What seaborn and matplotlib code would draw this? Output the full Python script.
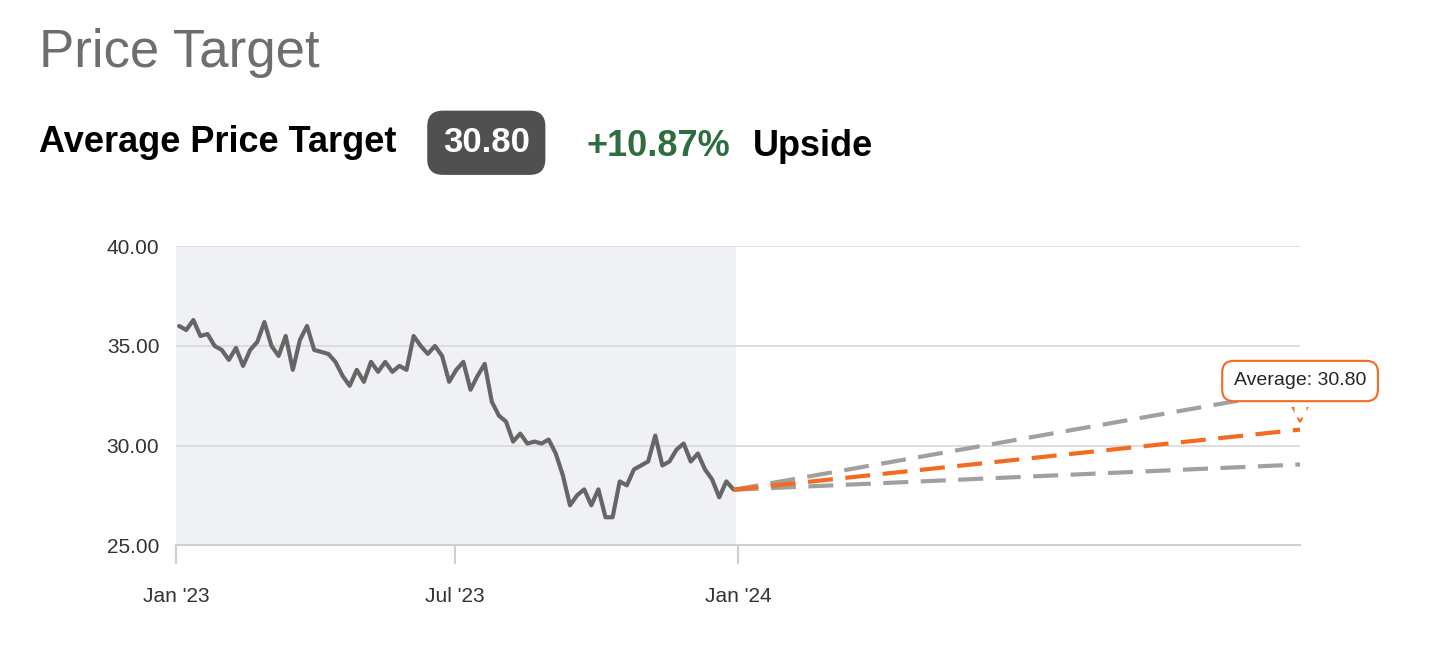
import numpy as np
import pandas as pd
import seaborn as sns
import matplotlib.pyplot as plt

# weekly-ish closes, Jan 2023 .. end of Dec 2023
prices = [36.0, 35.8, 36.3, 35.5, 35.6, 35.0, 34.8, 34.3, 34.9, 34.0, 34.8, 35.2,
          36.2, 35.0, 34.5, 35.5, 33.8, 35.3, 36.0, 34.8, 34.7, 34.6, 34.2, 33.5,
          33.0, 33.8, 33.2, 34.2, 33.7, 34.2, 33.7, 34.0, 33.8, 35.5, 35.0, 34.6,
          35.0, 34.5, 33.2, 33.8, 34.2, 32.8, 33.5, 34.1, 32.2, 31.5, 31.2, 30.2,
          30.6, 30.1, 30.2, 30.1, 30.3, 29.6, 28.5, 27.0, 27.5, 27.8, 27.0, 27.8,
          26.4, 26.4, 28.2, 28.0, 28.8, 29.0, 29.2, 30.5, 29.0, 29.2, 29.8, 30.1,
          29.2, 29.6, 28.8, 28.3, 27.4, 28.2, 27.8]
dates = pd.date_range('2023-01-03', '2023-12-29', periods=len(prices))

target_start = pd.Timestamp('2023-12-29')
target_end = pd.Timestamp('2024-12-31')
last_close = 27.78
target_high = 32.8
target_avg = 30.80
target_low = 29.05

hist = pd.DataFrame({'date': dates, 'price': prices})

sns.set_theme(style='white')
plt.rcParams['font.family'] = ['Liberation Sans', 'DejaVu Sans']

fig = plt.figure(figsize=(14.56, 6.64), dpi=100)
ax = fig.add_axes([0.1209, 0.179, 0.7720, 0.450])

ax.axvspan(pd.Timestamp('2023-01-01'), pd.Timestamp('2023-12-30'), color='#f0f1f5', zorder=0)
for y in [30, 35, 40]:
    ax.axhline(y, color='#d9d9d9', linewidth=1.2, zorder=1)

sns.lineplot(data=hist, x='date', y='price', color='#666666', linewidth=3, ax=ax, zorder=3)

ax.plot([target_start, target_end], [last_close, target_high], color='#a0a0a0', lw=3, dashes=(6, 3), zorder=2)
ax.plot([target_start, target_end], [last_close, target_low], color='#a0a0a0', lw=3, dashes=(6, 3), zorder=2)
ax.plot([target_start, target_end], [last_close, target_avg], color='#f26b21', lw=3, dashes=(6, 3), zorder=3)

ax.set_xlim(pd.Timestamp('2023-01-01'), pd.Timestamp('2024-12-31'))
ax.set_ylim(25, 40)
ax.set_yticks([25, 30, 35, 40])
ax.set_yticklabels([f'{v:.2f}' for v in [25, 30, 35, 40]])
ax.set_xticks([pd.Timestamp('2023-01-01'), pd.Timestamp('2023-07-01'), pd.Timestamp('2024-01-01')])
ax.set_xticklabels(["Jan '23", "Jul '23", "Jan '24"])
ax.set_xlabel('')
ax.set_ylabel('')
for s in ['top', 'right', 'left']:
    ax.spines[s].set_visible(False)
ax.spines['bottom'].set_color('#d0d0d0')
ax.spines['bottom'].set_linewidth(1.5)
ax.tick_params(axis='x', bottom=True, length=14, width=1.5, color='#d0d0d0',
               labelsize=15, labelcolor='#333333', pad=16)
ax.tick_params(axis='y', left=False, labelsize=15, labelcolor='#333333', pad=6)

ax.annotate('Average: 30.80', xy=(target_end, target_avg), xytext=(0, 35),
            textcoords='offset points', ha='center', va='center', fontsize=14,
            bbox=dict(boxstyle='round,pad=0.6', fc='white', ec='#f26b21', lw=1.5),
            zorder=6, annotation_clip=False)
ax.plot([target_end], [target_avg + 0.75], marker='v', markersize=10, mfc='white',
        mec='#f26b21', mew=1.5, zorder=7, clip_on=False)
ax.plot([target_end], [target_avg + 0.95], marker='s', markersize=8, mfc='white',
        mec='none', zorder=8, clip_on=False)

fig.text(0.027, 0.92, 'Price Target', fontsize=38, color='#6e6e6e', va='center')
fig.text(0.027, 0.785, 'Average Price Target', fontsize=26, fontweight='bold', color='black', va='center')
fig.text(0.334, 0.785, '30.80', fontsize=25, fontweight='bold', color='white', va='center', ha='center',
         bbox=dict(boxstyle='round,pad=0.45', fc='#505050', ec='none'))
fig.text(0.403, 0.78, '+10.87%', fontsize=26, fontweight='bold', color='#2e6e3e', va='center')
fig.text(0.517, 0.78, 'Upside', fontsize=26, fontweight='bold', color='black', va='center')

fig.savefig('out.png', dpi=100, facecolor='white')
